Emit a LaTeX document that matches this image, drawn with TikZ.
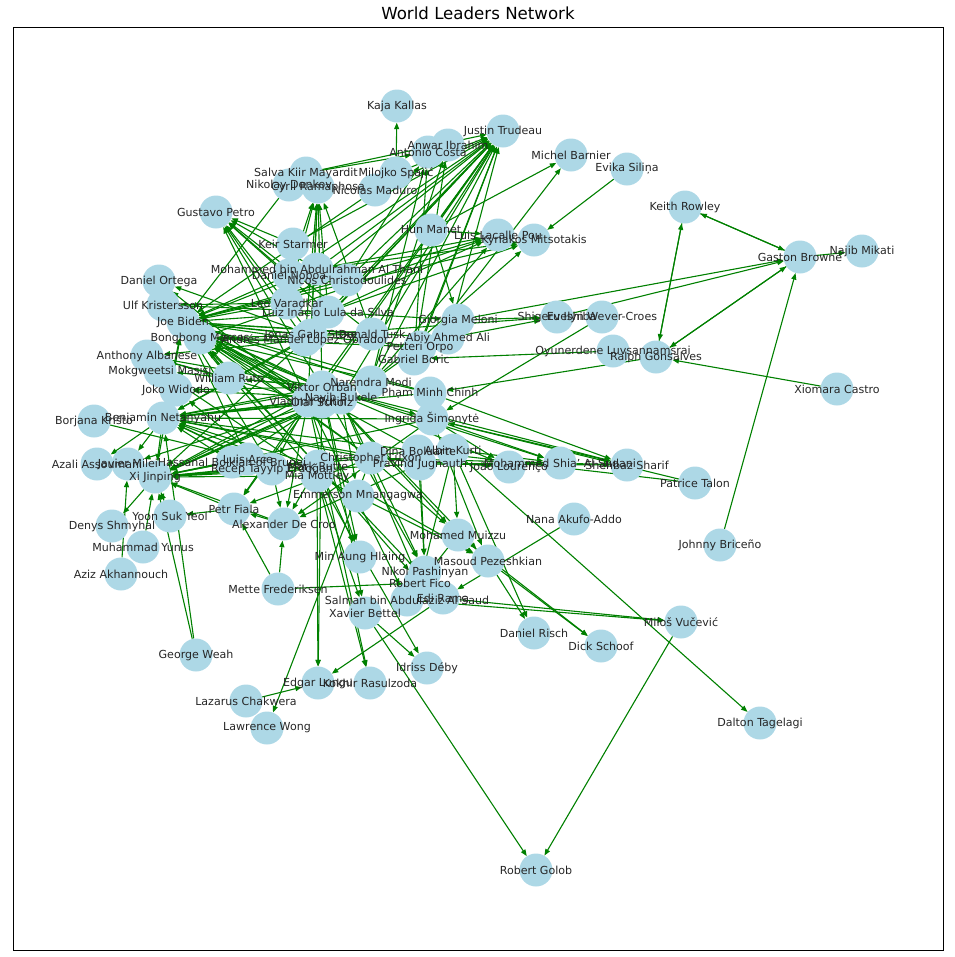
\documentclass[tikz,border=0pt]{standalone}
\usepackage{fontspec}
\setmainfont{DejaVu Sans}
\usetikzlibrary{arrows.meta}

\definecolor{nxgreen}{RGB}{0,128,0}
\definecolor{nxblue}{RGB}{173,216,230}

\pgfdeclarelayer{bg}
\pgfsetlayers{bg,main}

% leaders: id/x/y/name (pixel positions)
\newcommand{\leaderlist}{%
kallas/397/106/Kaja Kallas,
trudeau/503/131/Justin Trudeau,
ibrahim/448/145/Anwar Ibrahim,
costa/428/152/Antonio Costa,
barnier/571/155/Michel Barnier,
silina/627/169/Evika Siliņa,
kiir/306/173/Salva Kiir Mayardit,
spajic/396/173/Milojko Spajić,
denkov/289/185/Nikolay Denkov,
ramaphosa/318/187/Cyril Ramaphosa,
maduro/375/190/Nicolas Maduro,
petro/216/212/Gustavo Petro,
starmer/293/244/Keir Starmer,
manet/431/230/Hun Manet,
lacalle/498/235/Luis Lacalle Pou,
mitsotakis/534/240/Kyriakos Mitsotakis,
rowley/685/207/Keith Rowley,
browne/800/257/Gaston Browne,
mikati/862/251/Najib Mikati,
althani/317/269/Mohammed bin Abdulrahman Al Thani,
noboa/289/275/Daniel Noboa,
christodoulides/347/280/Nicos Christodoulides,
ortega/159/281/Daniel Ortega,
kristersson/163/305/Ulf Kristersson,
varadkar/287/303/Leo Varadkar,
lula/328/312/Luiz Inácio Lula da Silva,
biden/183/322/Joe Biden,
meloni/458/320/Giorgia Meloni,
ishiba/557/317/Shigeru Ishiba,
wever/602/317/Evelyn Wever-Croes,
store/311/335/Jonas Gahr Støre,
tusk/372/334/Donald Tusk,
amlo/305/340/Andrés Manuel López Obrador,
marcos/200/338/Bongbong Marcos,
abiy/448/338/Abiy Ahmed Ali,
orpo/420/347/Petteri Orpo,
boric/414/359/Gabriel Boric,
oyun/613/351/Oyunerdene Luvsannamsrai,
gonsalves/656/357/Ralph Gonsalves,
albanese/147/356/Anthony Albanese,
masisi/160/371/Mokgweetsi Masisi,
ruto/229/378/William Ruto,
modi/371/382/Narendra Modi,
castro/837/389/Xiomara Castro,
widodo/176/390/Joko Widodo,
orban/322/387/Viktor Orbán,
putin/308/401/Vladimir Putin,
bukele/341/398/Nayib Bukele,
scholz/322/402/Olaf Scholz,
pham/430/393/Phạm Minh Chính,
netanyahu/163/418/Benjamin Netanyahu,
kristo/94/421/Borjana Krišto,
simonyte/432/419/Ingrida Šimonytė,
boluarte/418/451/Dina Boluarte,
kurti/453/450/Albin Kurti,
luxon/371/458/Christopher Luxon,
jugnauth/420/464/Pravind Jugnauth,
lourenco/509/467/João Lourenço,
sudani/560/463/Mohammed Shia' Al Sudani,
sharif/627/465/Shehbaz Sharif,
talon/695/483/Patrice Talon,
assoumani/97/464/Azali Assoumani,
milei/128/464/Javier Milei,
bolkiah/232/462/Hassanal Bolkiah of Brunei,
arce/248/459/Luis Arce,
erdogan/272/469/Recep Tayyip Erdoğan,
rutte/318/466/Mark Rutte,
mottley/317/476/Mia Mottley,
xi/155/477/Xi Jinping,
mnangagwa/358/496/Emmerson Mnangagwa,
fiala/234/509/Petr Fiala,
decroo/284/524/Alexander De Croo,
yoon/170/516/Yoon Suk Yeol,
shmyhal/112/526/Denys Shmyhal,
akufo/574/519/Nana Akufo-Addo,
muizzu/458/535/Mohamed Muizzu,
briceno/720/545/Johnny Briceño,
yunus/143/547/Muhammad Yunus,
pezeshkian/488/561/Masoud Pezeshkian,
hlaing/360/557/Min Aung Hlaing,
pashinyan/425/572/Nikol Pashinyan,
akhannouch/121/574/Aziz Akhannouch,
fico/420/583/Robert Fico,
frederiksen/278/589/Mette Frederiksen,
rama/443/598/Edi Rama,
salman/407/600/Salman bin Abdulaziz Al Saud,
bettel/365/613/Xavier Bettel,
vucevic/681/622/Miloš Vučević,
risch/534/633/Daniel Risch,
schoof/601/646/Dick Schoof,
weah/196/655/George Weah,
deby/427/668/Idriss Déby,
lungu/318/683/Edgar Lungu,
rasulzoda/370/683/Kokhir Rasulzoda,
chakwera/246/701/Lazarus Chakwera,
tagelagi/760/723/Dalton Tagelagi,
wong/267/728/Lawrence Wong,
golob/536/870/Robert Golob}

% ties: source/{targets}
\newcommand{\tieslist}{%
orban/{biden,marcos,netanyahu,xi,ruto,widodo,albanese,masisi,petro,ramaphosa,trudeau,fiala,hlaing,bettel,lungu,pashinyan,simonyte,sharif,sudani,lourenco,pezeshkian,muizzu},
putin/{biden,marcos,netanyahu,xi,ramaphosa,trudeau,petro,ortega,kristersson,albanese,erdogan,fiala,decroo,hlaing,salman,rasulzoda},
bukele/{biden,netanyahu,xi,trudeau,widodo,mnangagwa,pashinyan,fico},
scholz/{biden,netanyahu,xi,marcos,bolkiah,milei},
modi/{biden,netanyahu,xi,trudeau,ibrahim,costa,lacalle,mitsotakis,meloni},
luxon/{biden,marcos,netanyahu,xi,fiala,wong,lourenco,sharif,muizzu},
rutte/{netanyahu,xi,marcos,biden,decroo,pezeshkian,fico,hlaing,rama},
mottley/{netanyahu,xi,biden,masisi,pezeshkian,rasulzoda,lungu,bettel,deby},
erdogan/{biden,xi,netanyahu,widodo,decroo},
arce/{xi,netanyahu,biden},
bolkiah/{xi,netanyahu},
jugnauth/{pashinyan,xi,netanyahu,decroo,sudani,sharif},
boluarte/{biden,netanyahu,xi,pashinyan},
kurti/{tagelagi,fico,risch,sudani,muizzu},
simonyte/{decroo,pezeshkian,sharif,sudani,lourenco,xi,netanyahu},
pham/{sharif,biden,netanyahu,marcos},
talon/{simonyte,boluarte},
gonsalves/{pham,browne,rowley},
wever/{simonyte},
oyun/{boric},
boric/{trudeau,ibrahim,costa,barnier},
orpo/{trudeau,biden,marcos},
abiy/{trudeau,biden,ishiba},
tusk/{trudeau,biden,petro,marcos,ramaphosa},
store/{trudeau,biden,petro,ortega,ramaphosa,netanyahu,ishiba},
amlo/{trudeau,biden,petro,ramaphosa,marcos,netanyahu,xi,albanese},
lula/{trudeau,biden,petro,ramaphosa,meloni,kristersson,lacalle,mitsotakis},
varadkar/{biden,ramaphosa,trudeau,kristersson},
noboa/{petro,trudeau,ramaphosa,biden},
althani/{trudeau,petro,biden,mitsotakis,lacalle},
christodoulides/{trudeau,biden,costa},
ruto/{biden,marcos,albanese},
manet/{trudeau,barnier,meloni,lacalle},
starmer/{trudeau,petro},
maduro/{trudeau,biden},
kiir/{costa,trudeau},
denkov/{biden},
spajic/{kallas,trudeau},
silina/{mitsotakis},
marcos/{lacalle,biden},
biden/{lacalle,mitsotakis},
netanyahu/{xi,milei,assoumani,biden},
kristo/{arce},
xi/{biden,yoon,shmyhal},
yunus/{xi},
akhannouch/{milei},
weah/{xi,netanyahu},
fiala/{yoon,xi},
decroo/{xi,fiala},
frederiksen/{fiala,decroo,fico},
yoon/{xi},
pezeshkian/{schoof,risch},
muizzu/{fico,schoof},
rama/{lungu,vucevic},
salman/{vucevic},
akufo/{rama},
bettel/{golob,deby},
vucevic/{golob},
chakwera/{lungu},
briceno/{browne},
castro/{gonsalves},
rowley/{browne,gonsalves},
browne/{rowley,gonsalves,mikati},
meloni/{browne,ishiba},
ishiba/{browne}}

\begin{document}
\begin{tikzpicture}[x=1bp,y=-1bp,
    leader/.style={circle,fill=nxblue,minimum size=33bp,inner sep=0pt},
    namelbl/.style={font=\fontsize{11.1}{13}\selectfont,inner sep=0pt,text=black!85},
    tie/.style={draw=nxgreen,line width=1.1bp,-{Triangle[length=6.5bp,width=5bp]}}]
    \useasboundingbox (0,0) rectangle (955,957);

    % Frame and title
    \draw[line width=0.9bp] (13,27) rectangle (943,950);
    \node[font=\fontsize{16.7}{19}\selectfont] (title) at (478,13) {World Leaders Network};

    % Leaders
    \foreach \id/\px/\py/\txt in \leaderlist {
        \node[leader] (\id) at (\px,\py) {};
    }

    % Ties, under the circles
    \begin{pgfonlayer}{bg}
    \foreach \src/\tgts in \tieslist {
        \foreach \tgt in \tgts {
            \draw[tie] (\src) -- (\tgt);
        }
    }
    \end{pgfonlayer}

    % Names on top
    \foreach \id/\px/\py/\txt in \leaderlist {
        \node[namelbl] at (\id) {\txt};
    }
\end{tikzpicture}
\end{document}
